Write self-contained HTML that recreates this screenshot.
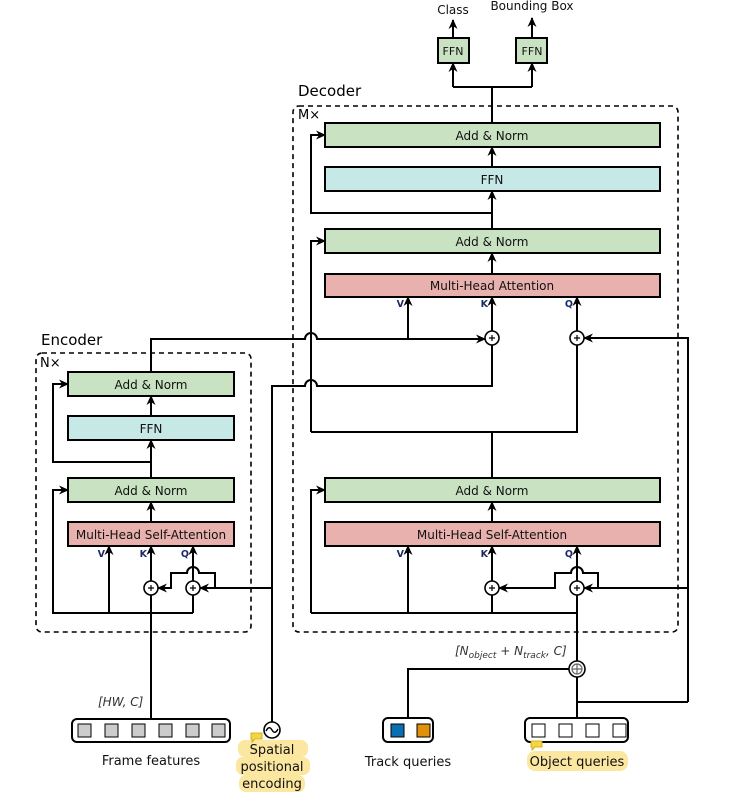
<!DOCTYPE html>
<html><head><meta charset="utf-8"><style>
html,body{margin:0;padding:0;background:#fff}
svg{display:block}
text{font-family:"DejaVu Sans","Liberation Sans",sans-serif}
</style></head><body>
<svg width="749" height="810" viewBox="0 0 749 810" xmlns="http://www.w3.org/2000/svg">
<defs>
<marker id="a" markerWidth="12" markerHeight="12" refX="10" refY="6" orient="auto" markerUnits="userSpaceOnUse">
<path d="M1,1.5 L11,6 L1,10.5 L4,6 Z" fill="#000"/>
</marker>
</defs>
<g fill="none" stroke="#000" stroke-width="1.6" stroke-dasharray="5,4">
<rect x="293" y="106" width="385" height="526" rx="6"/>
<rect x="36" y="353" width="215" height="279" rx="6"/>
</g>
<text x="298" y="96" font-size="15">Decoder</text>
<text x="41" y="345" font-size="15">Encoder</text>
<text x="298" y="119" font-size="13" font-family="Liberation Serif,serif" fill="#000">M×</text>
<text x="40" y="367" font-size="13" font-family="Liberation Serif,serif">N×</text>
<g stroke="#000" stroke-width="2">
<rect x="325" y="123" width="335" height="24" fill="#c9e2c2"/>
<rect x="325" y="167" width="335" height="24" fill="#c6e9e8"/>
<rect x="325" y="229" width="335" height="24" fill="#c9e2c2"/>
<rect x="325" y="274" width="335" height="23" fill="#e8b1ae"/>
<rect x="325" y="478" width="335" height="24" fill="#c9e2c2"/>
<rect x="325" y="522" width="335" height="24" fill="#e8b1ae"/>
<rect x="68" y="372" width="166" height="24" fill="#c9e2c2"/>
<rect x="68" y="416" width="166" height="24" fill="#c6e9e8"/>
<rect x="68" y="478" width="166" height="24" fill="#c9e2c2"/>
<rect x="68" y="522" width="166" height="24" fill="#e8b1ae"/>
<rect x="438" y="38" width="31" height="25" fill="#c9e2c2"/>
<rect x="516" y="38" width="31" height="25" fill="#c9e2c2"/>
<rect x="72" y="719" width="158" height="23" rx="5" fill="#fff"/>
<rect x="383" y="718" width="50" height="24" rx="5" fill="#fff"/>
<rect x="525" y="718" width="103" height="24" rx="5" fill="#fff"/>
</g>
<g stroke="#000" stroke-width="1">
<rect x="78" y="724" width="13" height="13" fill="#ccc"/><rect x="105" y="724" width="13" height="13" fill="#ccc"/>
<rect x="132" y="724" width="13" height="13" fill="#ccc"/><rect x="159" y="724" width="13" height="13" fill="#ccc"/>
<rect x="186" y="724" width="13" height="13" fill="#ccc"/><rect x="212" y="724" width="13" height="13" fill="#ccc"/>
<rect x="391" y="724" width="13" height="13" fill="#0a6fb0"/><rect x="417" y="724" width="13" height="13" fill="#e0900a"/>
<rect x="532" y="724" width="13" height="13" fill="#fff"/><rect x="559" y="724" width="13" height="13" fill="#fff"/>
<rect x="586" y="724" width="13" height="13" fill="#fff"/><rect x="613" y="724" width="13" height="13" fill="#fff"/>
</g>
<g font-size="12" text-anchor="middle" fill="#111">
<text x="492" y="140">Add &amp; Norm</text>
<text x="492" y="184">FFN</text>
<text x="492" y="246">Add &amp; Norm</text>
<text x="492" y="290">Multi-Head Attention</text>
<text x="492" y="495">Add &amp; Norm</text>
<text x="492" y="539">Multi-Head Self-Attention</text>
<text x="151" y="389">Add &amp; Norm</text>
<text x="151" y="433">FFN</text>
<text x="151" y="495">Add &amp; Norm</text>
<text x="151" y="539">Multi-Head Self-Attention</text>
<text x="453" y="55" font-size="11">FFN</text>
<text x="532" y="55" font-size="11">FFN</text>
<text x="453" y="14" font-size="12">Class</text>
<text x="532" y="10" font-size="12">Bounding Box</text>
</g>
<g font-size="9.5" fill="#1a2a6a" text-anchor="end" font-weight="bold">
<text x="404" y="307">V</text><text x="488" y="307">K</text><text x="573" y="307">Q</text>
<text x="404" y="557">V</text><text x="488" y="557">K</text><text x="573" y="557">Q</text>
<text x="105" y="557">V</text><text x="147" y="557">K</text><text x="189" y="557">Q</text>
</g>
<g fill="none" stroke="#000" stroke-width="2">
<path d="M492 123 V87 M453 87 H532"/>
<path d="M453 87 V63" marker-end="url(#a)"/><path d="M532 87 V63" marker-end="url(#a)"/>
<path d="M453 38 V20" marker-end="url(#a)"/><path d="M532 38 V18" marker-end="url(#a)"/>
<path d="M492 167 V147" marker-end="url(#a)"/>
<path d="M492 229 V191" marker-end="url(#a)"/>
<path d="M492 213 H311 V135 H325" marker-end="url(#a)"/>
<path d="M492 274 V253" marker-end="url(#a)"/>
<path d="M311 432 V241 H325" marker-end="url(#a)"/>
<path d="M492 478 V432 M311 432 H577 V345"/>
<path d="M577 331 V297" marker-end="url(#a)"/>
<path d="M492 331 V297" marker-end="url(#a)"/>
<path d="M408 339 V297" marker-end="url(#a)"/>
<path d="M151 372 V339 H305 A6 6 0 0 1 317 339 H485" marker-end="url(#a)"/>
<path d="M272 722 V386 H305 A6 6 0 0 1 317 386 H492 V345"/>
<path d="M688 702 V338 H584" marker-end="url(#a)"/>
<path d="M577 702 H688"/>
<path d="M492 522 V502" marker-end="url(#a)"/>
<path d="M311 613 V490 H325" marker-end="url(#a)"/>
<path d="M311 613 H577"/>
<path d="M408 613 V546" marker-end="url(#a)"/>
<path d="M492 613 V595 M492 581 V546" marker-end="url(#a)"/>
<path d="M577 718 V677 M577 661 V595 M577 581 V546" marker-end="url(#a)"/>
<path d="M688 588 H584" marker-end="url(#a)"/>
<path d="M598 588 V573 H583 A6 6 0 0 0 571 573 H555 V588 H499" marker-end="url(#a)"/>
<path d="M408 718 V669 H569"/>
<path d="M151 416 V396" marker-end="url(#a)"/>
<path d="M151 478 V440" marker-end="url(#a)"/>
<path d="M151 462 H53 V384 H68" marker-end="url(#a)"/>
<path d="M151 522 V502" marker-end="url(#a)"/>
<path d="M193 613 H53 V490 H68" marker-end="url(#a)"/>
<path d="M109 613 V546" marker-end="url(#a)"/>
<path d="M151 719 V595 M151 581 V546" marker-end="url(#a)"/>
<path d="M193 613 V595 M193 581 V546" marker-end="url(#a)"/>
<path d="M272 588 H200" marker-end="url(#a)"/>
<path d="M215 588 V573 H199 A6 6 0 0 0 187 573 H171 V588 H158" marker-end="url(#a)"/>
</g>
<g fill="#fff" stroke="#000" stroke-width="1.6">
<circle cx="492" cy="338" r="7"/><circle cx="577" cy="338" r="7"/>
<circle cx="492" cy="588" r="7"/><circle cx="577" cy="588" r="7"/>
<circle cx="151" cy="588" r="7"/><circle cx="193" cy="588" r="7"/>
<circle cx="577" cy="669" r="8"/><circle cx="272" cy="730" r="8"/>
</g>
<g stroke="#000" stroke-width="1.2" fill="none">
<path d="M489 338 H495 M492 335 V341 M574 338 H580 M577 335 V341 M489 588 H495 M492 585 V591 M574 588 H580 M577 585 V591 M148 588 H154 M151 585 V591 M190 588 H196 M193 585 V591"/>
<circle cx="577" cy="669" r="5" stroke="#666"/><path d="M572 669 H582 M577 664 V674" stroke="#666"/>
<path d="M266 731 Q269 725 272 730 Q275 735 278 729" stroke-width="1.4"/>
</g>
<g fill="#fbe7a0">
<rect x="238" y="740" width="70" height="17" rx="7"/>
<rect x="236" y="757" width="74" height="18" rx="7"/>
<rect x="239" y="775" width="66" height="17" rx="7"/>
<rect x="527" y="751" width="101" height="20" rx="8"/>
</g>
<path d="M251 733 h11 v6 h-7 l-3 3 v-3 h-1 z" fill="#f4d640" stroke="#c9a400" stroke-width="0.8"/>
<path d="M531 741 h11 v6 h-7 l-3 3 v-3 h-1 z" fill="#f4d640" stroke="#c9a400" stroke-width="0.8"/>
<g font-size="13" text-anchor="middle" fill="#111">
<text x="151" y="765">Frame features</text>
<text x="272" y="754">Spatial</text>
<text x="272" y="771">positional</text>
<text x="272" y="788">encoding</text>
<text x="408" y="766">Track queries</text>
<text x="577" y="766">Object queries</text>
</g>
<g font-family="Liberation Serif,serif" font-style="italic" fill="#333" font-size="12">
<text x="98" y="706">[HW, C]</text>
<text x="455" y="655">[N<tspan font-size="9" dy="3">object</tspan><tspan dy="-3"> + N</tspan><tspan font-size="9" dy="3">track</tspan><tspan dy="-3">, C]</tspan></text>
</g>
</svg>
</body></html>
